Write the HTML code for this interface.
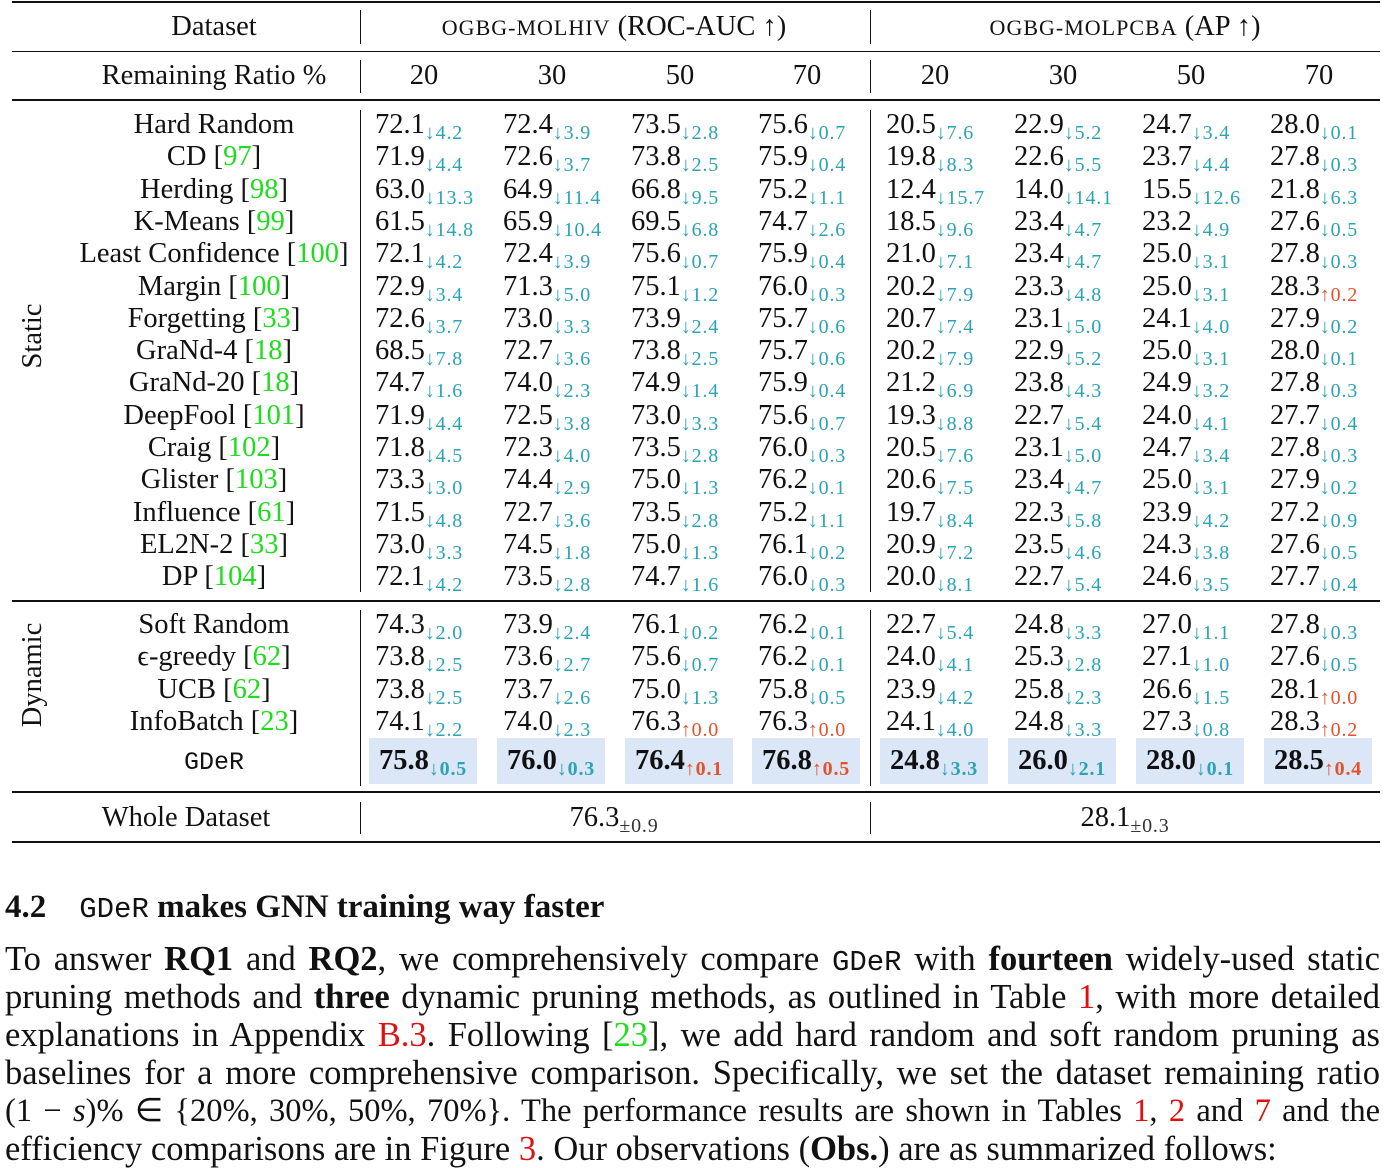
<!DOCTYPE html>
<html><head><meta charset="utf-8">
<style>
body{margin:0;width:1385px;height:1167px;background:#fff;position:relative;overflow:hidden;font-family:"Liberation Serif",serif;color:#111}
.a{position:absolute;white-space:nowrap}
.t{font-size:28.5px;line-height:30px}
.c{transform:translateX(-50%)}
.r{position:absolute;left:12px;width:1368px;background:#111}
.v{position:absolute;width:1.3px;background:#111}
.s{font-size:20px;position:relative;top:6px;letter-spacing:0.8px}
.dn{color:#2aa3b5}.up{color:#e8502a}
.g{color:#1edc1e}.red{color:#e01010}
.sc{font-size:22px;letter-spacing:1px}
.box{position:absolute;background:#dbe7f7;width:108px;height:46px}
.ln{position:absolute;left:5px;width:1375px;font-size:34.5px;line-height:38px;text-align:justify;text-align-last:justify;white-space:nowrap}
.mono{font-family:"Liberation Mono",monospace}
</style></head><body>
<div id="tbl"></div>
<script>
const methods=["Hard Random","CD [97]","Herding [98]","K-Means [99]","Least Confidence [100]","Margin [100]","Forgetting [33]","GraNd-4 [18]","GraNd-20 [18]","DeepFool [101]","Craig [102]","Glister [103]","Influence [61]","EL2N-2 [33]","DP [104]"];
const dynMethods=["Soft Random","ϵ-greedy [62]","UCB [62]","InfoBatch [23]","GDeR"];
const ratios=["20","30","50","70","20","30","50","70"];
const staticVals=[
"72.1 -4.2|72.4 -3.9|73.5 -2.8|75.6 -0.7|20.5 -7.6|22.9 -5.2|24.7 -3.4|28.0 -0.1",
"71.9 -4.4|72.6 -3.7|73.8 -2.5|75.9 -0.4|19.8 -8.3|22.6 -5.5|23.7 -4.4|27.8 -0.3",
"63.0 -13.3|64.9 -11.4|66.8 -9.5|75.2 -1.1|12.4 -15.7|14.0 -14.1|15.5 -12.6|21.8 -6.3",
"61.5 -14.8|65.9 -10.4|69.5 -6.8|74.7 -2.6|18.5 -9.6|23.4 -4.7|23.2 -4.9|27.6 -0.5",
"72.1 -4.2|72.4 -3.9|75.6 -0.7|75.9 -0.4|21.0 -7.1|23.4 -4.7|25.0 -3.1|27.8 -0.3",
"72.9 -3.4|71.3 -5.0|75.1 -1.2|76.0 -0.3|20.2 -7.9|23.3 -4.8|25.0 -3.1|28.3 +0.2",
"72.6 -3.7|73.0 -3.3|73.9 -2.4|75.7 -0.6|20.7 -7.4|23.1 -5.0|24.1 -4.0|27.9 -0.2",
"68.5 -7.8|72.7 -3.6|73.8 -2.5|75.7 -0.6|20.2 -7.9|22.9 -5.2|25.0 -3.1|28.0 -0.1",
"74.7 -1.6|74.0 -2.3|74.9 -1.4|75.9 -0.4|21.2 -6.9|23.8 -4.3|24.9 -3.2|27.8 -0.3",
"71.9 -4.4|72.5 -3.8|73.0 -3.3|75.6 -0.7|19.3 -8.8|22.7 -5.4|24.0 -4.1|27.7 -0.4",
"71.8 -4.5|72.3 -4.0|73.5 -2.8|76.0 -0.3|20.5 -7.6|23.1 -5.0|24.7 -3.4|27.8 -0.3",
"73.3 -3.0|74.4 -2.9|75.0 -1.3|76.2 -0.1|20.6 -7.5|23.4 -4.7|25.0 -3.1|27.9 -0.2",
"71.5 -4.8|72.7 -3.6|73.5 -2.8|75.2 -1.1|19.7 -8.4|22.3 -5.8|23.9 -4.2|27.2 -0.9",
"73.0 -3.3|74.5 -1.8|75.0 -1.3|76.1 -0.2|20.9 -7.2|23.5 -4.6|24.3 -3.8|27.6 -0.5",
"72.1 -4.2|73.5 -2.8|74.7 -1.6|76.0 -0.3|20.0 -8.1|22.7 -5.4|24.6 -3.5|27.7 -0.4"];
const dynVals=[
"74.3 -2.0|73.9 -2.4|76.1 -0.2|76.2 -0.1|22.7 -5.4|24.8 -3.3|27.0 -1.1|27.8 -0.3",
"73.8 -2.5|73.6 -2.7|75.6 -0.7|76.2 -0.1|24.0 -4.1|25.3 -2.8|27.1 -1.0|27.6 -0.5",
"73.8 -2.5|73.7 -2.6|75.0 -1.3|75.8 -0.5|23.9 -4.2|25.8 -2.3|26.6 -1.5|28.1 +0.0",
"74.1 -2.2|74.0 -2.3|76.3 +0.0|76.3 +0.0|24.1 -4.0|24.8 -3.3|27.3 -0.8|28.3 +0.2",
"75.8 -0.5|76.0 -0.3|76.4 +0.1|76.8 +0.5|24.8 -3.3|26.0 -2.1|28.0 -0.1|28.5 +0.4"];
const colX=[375,503,631,758,886,1014,1142,1270];
const T=document.getElementById('tbl');
function add(html,cls,x,y,name){const d=document.createElement('div');d.className='a '+cls;d.style.left=x+'px';d.style.top=y+'px';d.innerHTML=html;


T.appendChild(d);return d;}
function meth(m){return m.replace(/\[(\d+)\]/,'[<span class="g">$1</span>]');}
function cell(v,bold){const p=v.split(' ');const up=p[1][0]=='+';
const n=bold?'<b>'+p[0]+'</b>':p[0];
return n+'<span class="s '+(up?'up':'dn')+'">'+(bold?'<b>':'')+(up?'↑':'↓')+p[1].slice(1)+(bold?'</b>':'')+'</span>';}
function row(mname,vals,y,bold){
 add(bold?'<span class="mono" style="font-size:25px">'+mname+'</span>':meth(mname),'t c',214,y-14,'method-label');
 vals.split('|').forEach((v,j)=>{
  if(bold){const b=document.createElement('div');b.className='box';b.style.left=(colX[j]-6)+'px';b.style.top=(y-22)+'px';
  
  
  T.appendChild(b);}
  add(cell(v,bold),'t',colX[j]+(bold?4:0),y-14,'value-cell');});
}
methods.forEach((m,i)=>row(m,staticVals[i],124+32.3*i,false));
dynMethods.forEach((m,i)=>row(m,dynVals[i],i<4?624+32.3*i:760,i==4));
add('Dataset','t c',214,12,'header-dataset');
add('<span class="sc">OGBG-MOLHIV</span> (ROC-AUC ↑)','t c',614,12,'header-molhiv');
add('<span class="sc">OGBG-MOLPCBA</span> (AP ↑)','t c',1125,12,'header-molpcba');
add('Remaining Ratio %','t c',214,61,'header-ratio');
ratios.forEach((r,j)=>add(r,'t c',colX[j]+49,61,'ratio-label'));
add('Whole Dataset','t c',186,803,'whole-dataset-label');
add('76.3<span class="s" style="color:#333">±0.9</span>','t c',614,803,'whole-molhiv');
add('28.1<span class="s" style="color:#333">±0.3</span>','t c',1125,803,'whole-molpcba');
add('Static','t',33,336,'static-group').style.transform='translate(-50%,-50%) rotate(-90deg)';
add('Dynamic','t',33,675,'dynamic-group').style.transform='translate(-50%,-50%) rotate(-90deg)';
[[1,2.2],[51,1.3],[99,1.8],[600,1.8],[791,1.8],[841,2.2]].forEach(r=>{const d=document.createElement('div');d.className='r';d.style.top=r[0]+'px';d.style.height=r[1]+'px';


T.appendChild(d);});
[[10,44],[60,93],[110,592],[610,786],[802,834]].forEach(s=>[360,870].forEach(x=>{const d=document.createElement('div');d.className='v';d.style.left=x+'px';d.style.top=s[0]+'px';d.style.height=(s[1]-s[0])+'px';


T.appendChild(d);}));
</script>
<div class="a" style="left:5px;top:888px;font-size:33px;font-weight:bold;line-height:38px">4.2&nbsp;&nbsp;&nbsp;&nbsp;<span class="mono" style="font-weight:normal;font-size:29px">GDeR</span> makes GNN training way faster</div>
<div>
<div class="ln" style="top:940px">To answer <b>RQ1</b> and <b>RQ2</b>, we comprehensively compare <span class="mono" style="font-size:29px">GDeR</span> with <b>fourteen</b> widely-used static</div>
<div class="ln" style="top:978px">pruning methods and <b>three</b> dynamic pruning methods, as outlined in Table <span class="red">1</span>, with more detailed</div>
<div class="ln" style="top:1016px">explanations in Appendix <span class="red">B.3</span>. Following [<span class="g">23</span>], we add hard random and soft random pruning as</div>
<div class="ln" style="top:1054px">baselines for a more comprehensive comparison. Specifically, we set the dataset remaining ratio</div>
<div class="ln" style="top:1092px;font-size:32.5px">(1 − <i>s</i>)% ∈ {20%, 30%, 50%, 70%}. The performance results are shown in Tables <span class="red">1</span>, <span class="red">2</span> and <span class="red">7</span> and the</div>
<div class="ln" style="top:1130px;text-align-last:left">efficiency comparisons are in Figure <span class="red">3</span>. Our observations (<b>Obs.</b>) are as summarized follows:</div>
</div>
</body></html>
